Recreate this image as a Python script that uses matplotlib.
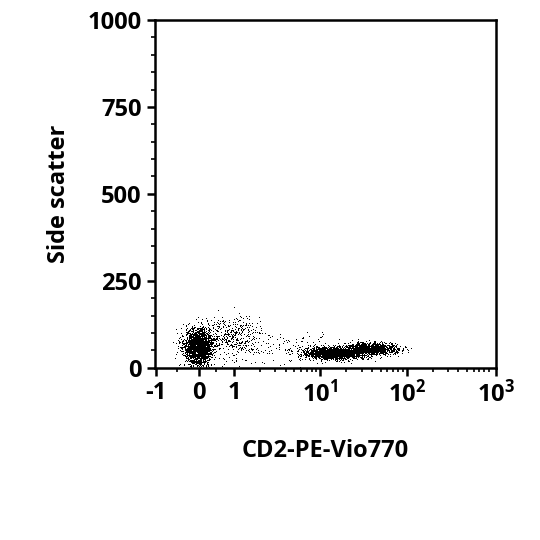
import numpy as np
import matplotlib
matplotlib.use('Agg')
from matplotlib import pyplot as plt

plt.rcParams['font.family'] = ['Open Sans', 'DejaVu Sans']
plt.rcParams['mathtext.fontset'] = 'custom'
plt.rcParams['mathtext.bf'] = 'Open Sans:bold'
plt.rcParams['mathtext.rm'] = 'Open Sans:bold'

# tick positions on the biexponential x axis
x_tick_pos = [0, 43, 79, 166, 253, 343]
x_tick_labels = ['-1', '0', '1', r'$\mathbf{10^1}$', r'$\mathbf{10^2}$', r'$\mathbf{10^3}$']
y_ticks = [0, 250, 500, 750, 1000]

# cell populations: centre (x value, SSC), spread, count
pop_x = [0.0, 0.9, 15.0, 40.0, 4.0]
pop_y = [60, 85, 40, 52, 60]
pop_sx = [0.18, 0.45, 0.18, 0.14, 0.3]
pop_sy = [25, 30, 9, 8, 25]
pop_n = [2200, 500, 2000, 1200, 120]
pop_log = [False, False, True, True, True]


def to_pos(v):
    v = np.asarray(v, dtype=float)
    out = np.where(v < 0, 43 + 43 * v, 43 + 36 * v)
    big = v >= 1
    out[big] = 79 + 87 * np.log10(v[big])
    return out


rng = np.random.default_rng(3)
xs, ys = [], []
for cx, cy, sx, sy, n, lg in zip(pop_x, pop_y, pop_sx, pop_sy, pop_n, pop_log):
    if lg:
        xv = 10 ** rng.normal(np.log10(cx), sx, n)
    else:
        xv = rng.normal(cx, sx, n)
    yv = np.abs(rng.normal(cy, sy, n))
    xs.append(to_pos(xv))
    ys.append(yv)
xs = np.concatenate(xs)
ys = np.concatenate(ys)

fig = plt.figure(figsize=(5.4, 5.4), dpi=100)
ax = fig.add_axes([0.287, 0.319, 0.631, 0.644])
ax.plot(xs, ys, ',', color='black')

ax.set_xlim(-1, 343)
ax.set_ylim(0, 1000)
ax.set_xticks(x_tick_pos)
ax.set_xticklabels(x_tick_labels)
minor = []
for d in [1, 10, 100]:
    for k in range(2, 10):
        minor.append(float(to_pos([d * k])[0]))
minor += [21.5, 61]
ax.set_xticks(minor, minor=True)
ax.set_yticks(y_ticks)
ax.set_yticks(np.arange(0, 1001, 50), minor=True)

for lab in ax.get_xticklabels() + ax.get_yticklabels():
    lab.set_fontweight('bold')
    lab.set_fontsize(17)
ax.tick_params(which='major', length=6, width=1.8)
ax.tick_params(which='minor', length=3, width=1.2)
for sp in ax.spines.values():
    sp.set_linewidth(1.8)

ax.set_xlabel('CD2-PE-Vio770', fontsize=17, fontweight='bold', labelpad=22)
ax.set_ylabel('Side scatter', fontsize=17, fontweight='bold', labelpad=12)

fig.savefig('out.png', dpi=100)
